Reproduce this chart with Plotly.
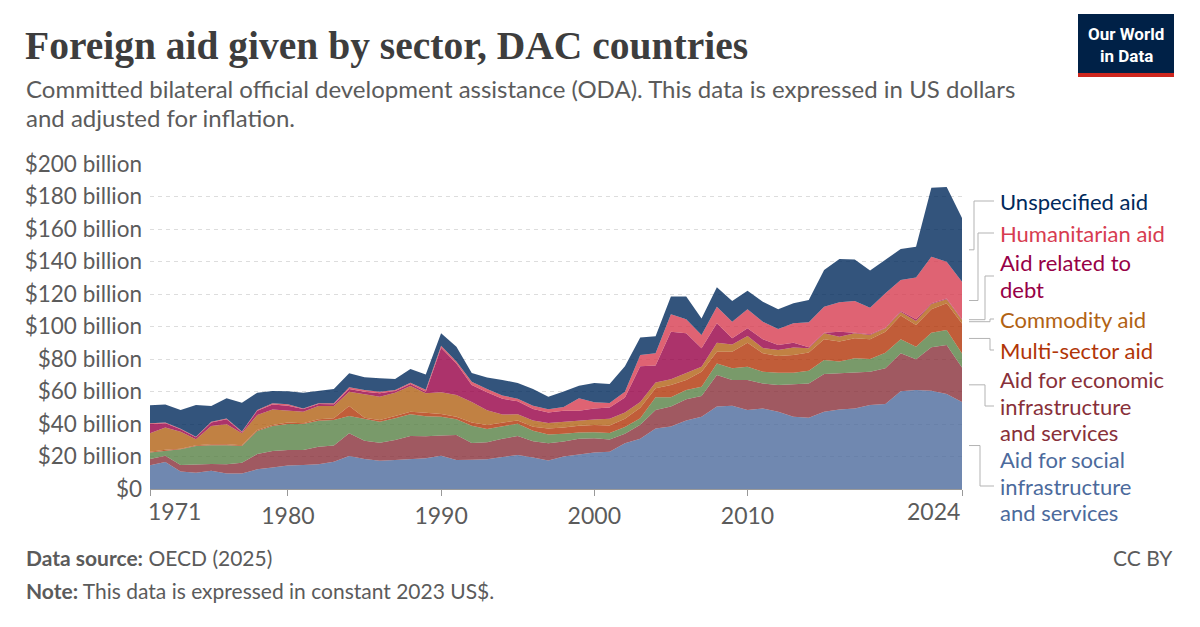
import plotly.graph_objects as go

years = list(range(1971, 2025))

social = [14.6, 16.6, 10.7, 10.0, 11.3, 9.6, 9.6, 12.1, 13.3, 14.4,
          14.8, 15.2, 16.8, 20.3, 18.5, 17.4, 17.8, 18.3, 19.0, 20.5,
          17.8, 18.0, 18.3, 19.7, 20.9, 19.4, 17.6, 20.0, 21.4, 22.5,
          23.0, 28.1, 31.0, 37.3, 38.4, 42.1, 44.5, 50.7, 51.3, 48.6,
          49.6, 47.6, 44.5, 43.9, 47.6, 49.0, 49.6, 51.7, 52.3, 60.1,
          60.9, 60.5, 58.5, 53.5]
economic = [3.8, 3.8, 4.1, 5.2, 4.1, 5.6, 6.6, 9.4, 10.1, 9.6,
            9.2, 10.8, 9.9, 14.0, 11.2, 11.1, 12.4, 14.3, 13.4, 12.4,
            15.4, 10.3, 10.5, 11.2, 11.7, 10.0, 10.5, 9.3, 9.5, 8.7,
            7.4, 5.9, 8.5, 11.3, 12.3, 13.1, 12.7, 19.5, 15.8, 18.5,
            15.4, 16.4, 19.9, 21.1, 23.2, 22.2, 22.0, 20.5, 22.0, 23.4,
            18.9, 26.7, 30.1, 21.2]
production = [4.0, 3.2, 9.6, 11.3, 11.6, 11.8, 10.3, 14.2, 15.4, 16.0,
              16.0, 16.0, 15.8, 10.6, 13.4, 12.9, 13.3, 13.4, 12.4, 11.6,
              9.7, 10.7, 8.2, 7.7, 7.6, 6.4, 5.4, 4.7, 3.9, 3.8,
              4.1, 4.1, 4.0, 7.9, 5.7, 5.8, 5.8, 7.1, 7.2, 8.2,
              7.2, 7.6, 7.2, 7.8, 8.6, 7.2, 8.8, 7.8, 9.6, 8.6,
              7.8, 9.0, 9.2, 8.7]
multisector = [0.5, 0.6, 0.4, 0.5, 0.6, 0.6, 0.5, 0.6, 0.6, 1.0,
               0.4, 1.0, 1.0, 6.2, 0.8, 1.1, 1.4, 1.6, 2.2, 1.7,
               1.6, 2.0, 2.4, 2.0, 2.0, 2.5, 3.8, 3.9, 4.1, 4.4,
               4.6, 5.1, 6.5, 5.5, 7.6, 6.1, 9.2, 7.2, 10.2, 14.7,
               11.3, 10.2, 10.9, 11.2, 12.7, 12.3, 12.3, 12.1, 12.9, 14.6,
               13.3, 14.4, 16.5, 18.5]
commodity = [11.4, 13.6, 10.5, 3.6, 11.2, 12.2, 7.3, 9.2, 9.6, 7.2,
             7.2, 8.1, 7.6, 8.8, 14.6, 14.3, 14.4, 15.8, 11.9, 13.4,
             13.3, 12.5, 9.1, 5.2, 3.8, 3.8, 3.3, 3.5, 3.3, 3.3,
             4.2, 3.9, 3.5, 3.5, 3.5, 4.1, 3.1, 5.5, 4.5, 4.2,
             3.3, 3.7, 4.5, 2.6, 3.7, 3.0, 3.1, 2.7, 2.1, 2.3,
             2.5, 3.2, 2.4, 2.1]
debt = [5.7, 2.7, 1.4, 1.2, 2.2, 3.2, 0.7, 2.7, 3.0, 3.1,
        1.6, 1.2, 1.0, 1.6, 1.4, 2.1, 1.0, 1.2, 1.0, 27.4,
        19.5, 10.5, 11.0, 9.7, 8.0, 7.2, 6.5, 6.7, 5.9, 6.9,
        6.9, 9.2, 22.0, 10.5, 29.3, 24.6, 11.3, 12.0, 3.7, 4.7,
        5.3, 3.1, 3.0, 0.6, 0.4, 3.1, 0.4, 0.4, 0.3, 0.5,
        1.0, 0.5, 0.6, 0.4]
humanitarian = [0.4, 0.5, 0.4, 0.4, 0.4, 0.4, 0.4, 0.4, 0.7, 0.8,
                0.4, 0.4, 0.6, 1.1, 1.0, 1.0, 0.6, 0.8, 1.2, 1.2,
                1.1, 2.0, 2.0, 2.0, 1.6, 1.9, 2.0, 2.3, 7.7, 3.8,
                2.8, 3.6, 7.0, 7.5, 10.7, 8.6, 8.2, 10.2, 10.3, 11.7,
                10.9, 9.9, 12.0, 15.4, 16.0, 18.1, 19.5, 16.4, 21.2, 19.1,
                25.7, 28.7, 22.6, 23.2]
unspecified = [11.1, 11.0, 11.5, 19.5, 9.7, 12.4, 17.7, 10.7, 7.6, 8.0,
               9.7, 7.8, 8.8, 8.6, 7.8, 8.2, 6.8, 8.4, 9.3, 7.6,
               9.2, 5.4, 7.1, 9.6, 9.6, 10.3, 7.7, 9.6, 7.8, 11.8,
               11.6, 15.6, 10.8, 10.5, 10.9, 14.0, 10.2, 11.9, 12.7, 11.4,
               12.3, 12.1, 12.3, 13.7, 22.6, 26.6, 25.6, 22.8, 20.5, 19.1,
               19.0, 42.4, 45.9, 39.2]

# (name, values, colour, label lines or None)
series = [
    ("Aid for social infrastructure and services", social, "#4C6A9C",
     ["Aid for social", "infrastructure", "and services"]),
    ("Aid for economic infrastructure and services", economic, "#883039",
     ["Aid for economic", "infrastructure", "and services"]),
    ("Aid for production sectors", production, "#578145", None),
    ("Multi-sector aid", multisector, "#B13507", ["Multi-sector aid"]),
    ("Commodity aid", commodity, "#B16214", ["Commodity aid"]),
    ("Aid related to debt", debt, "#970046", ["Aid related to", "debt"]),
    ("Humanitarian aid", humanitarian, "#D73C50", ["Humanitarian aid"]),
    ("Unspecified aid", unspecified, "#00295B", ["Unspecified aid"]),
]

y_ticks = list(range(0, 201, 20))
y_ticktext = ["$0"] + [f"${v} billion" for v in y_ticks[1:]]
x_ticks = [1971, 1980, 1990, 2000, 2010, 2024]

W, H = 1200, 627
L, R, T, B = 150, 962, 164, 489


def px2x(px):
    return (px - L) / (R - L)


def py2y(py):
    return (B - py) / (B - T)


def rgba(hexc, a):
    h = hexc.lstrip("#")
    r, g, b = int(h[0:2], 16), int(h[2:4], 16), int(h[4:6], 16)
    return f"rgba({r},{g},{b},{a})"


fig = go.Figure()
for name, vals, col, _ in series:
    fig.add_trace(go.Scatter(
        x=years, y=vals, name=name, stackgroup="one", mode="lines",
        line=dict(width=0, color=col), fillcolor=rgba(col, 0.8),
        showlegend=False))

GRAY = "#5b5b5b"
FONT = "Lato"
annotations = []
shapes = []


def text(t, px, py, size, color=GRAY, anchor="left", family=FONT, **kw):
    annotations.append(dict(text=t, x=px2x(px), y=py2y(py), xref="paper",
                            yref="paper", xanchor=anchor, yanchor="middle",
                            showarrow=False,
                            font=dict(family=family, size=size, color=color), **kw))


# Title & subtitle
text("<b>Foreign aid given by sector, DAC countries</b>", 23, 46, 39.5,
     color="#3d3d3d", family="Liberation Serif")
text("Committed bilateral official development assistance (ODA). This data is expressed in US dollars",
     24, 89, 24)
text("and adjusted for inflation.", 24, 118, 24)

# Footer
text("<b>Data source:</b> OECD (2025)", 24, 557, 21)
text("<b>Note:</b> This data is expressed in constant 2023 US$.", 24, 590, 21)
text("CC BY", 1175, 557, 21, anchor="right")

# Logo
shapes.append(dict(type="rect", xref="paper", yref="paper",
                   x0=px2x(1078), x1=px2x(1174), y0=py2y(73), y1=py2y(14),
                   fillcolor="#002147", line=dict(width=0)))
shapes.append(dict(type="rect", xref="paper", yref="paper",
                   x0=px2x(1078), x1=px2x(1174), y0=py2y(77), y1=py2y(73),
                   fillcolor="#CE261E", line=dict(width=0)))
text("<b>Our World</b>", 1126, 34, 17, color="white", anchor="center", family="Roboto")
text("<b>in Data</b>", 1126, 56, 17, color="white", anchor="center", family="Roboto")

# First / last x tick labels aligned to the plot edges
annotations.append(dict(text="1971", x=1971, y=py2y(511), xref="x", yref="paper",
                        xanchor="left", yanchor="middle", showarrow=False, xshift=-4,
                        font=dict(family=FONT, size=23, color=GRAY)))
annotations.append(dict(text="2024", x=2024, y=py2y(511), xref="x", yref="paper",
                        xanchor="right", yanchor="middle", showarrow=False,
                        font=dict(family=FONT, size=23, color=GRAY)))

# Right-side labels with connector lines: centre pixel y of label block, elbow x
label_pos = {
    "Unspecified aid": (201, 974),
    "Humanitarian aid": (233, 978),
    "Aid related to debt": (276, 985),
    "Commodity aid": (319, 990),
    "Multi-sector aid": (350, 990),
    "Aid for economic infrastructure and services": (406, 985),
    "Aid for social infrastructure and services": (486, 980),
}
LINE_H = 26.5
cum = 0.0
for name, vals, col, lines in series:
    lo = cum
    cum += vals[-1]
    if lines is None:
        continue
    mid_paper = ((lo + cum) / 2) / 200.0
    centre_py, ex = label_pos[name]
    ly = py2y(centre_py)
    path = (f"M {px2x(969)},{mid_paper} L {px2x(ex)},{mid_paper} "
            f"L {px2x(ex)},{ly} L {px2x(994)},{ly}")
    shapes.append(dict(type="path", path=path, xref="paper", yref="paper",
                       line=dict(color="#b3b3b3", width=1)))
    first_py = centre_py - LINE_H * (len(lines) - 1) / 2
    for i, ln in enumerate(lines):
        text(ln, 999, first_py + i * LINE_H, 22, color=col, borderpad=0)

fig.update_layout(
    width=W, height=H,
    margin=dict(l=L, r=W - R, t=T, b=H - B, pad=0),
    paper_bgcolor="white", plot_bgcolor="white",
    font=dict(family=FONT, color=GRAY),
    xaxis=dict(range=[1971, 2024], tickvals=x_ticks,
               ticktext=["", "1980", "1990", "2000", "2010", ""],
               ticks="outside", ticklen=6, tickcolor="#999999",
               showline=True, linecolor="#999999", linewidth=1,
               showgrid=False, zeroline=False,
               tickfont=dict(family=FONT, size=23, color=GRAY)),
    yaxis=dict(range=[0, 200], tickvals=y_ticks, ticktext=y_ticktext,
               showgrid=True, gridcolor="#dddddd", griddash="4px,4px",
               gridwidth=1, zeroline=False, ticks="", ticklabelstandoff=7,
               tickfont=dict(family=FONT, size=22.5, color=GRAY)),
    annotations=annotations,
    shapes=shapes,
    hovermode=False,
)

fig.write_html("out.html")
